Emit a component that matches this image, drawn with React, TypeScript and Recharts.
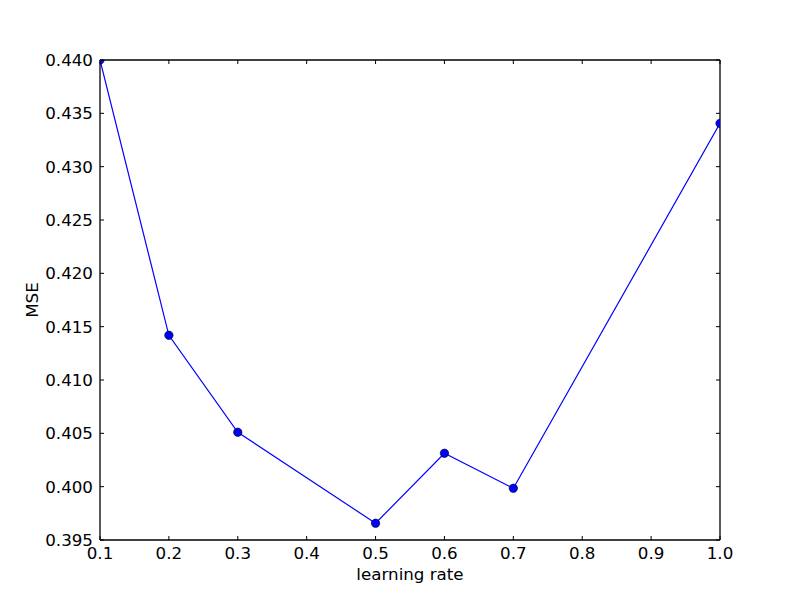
import { LineChart, Line, XAxis, YAxis } from 'recharts';

const learningRates = [0.1, 0.2, 0.3, 0.5, 0.6, 0.7, 1.0];
const mseValues = [0.44, 0.41419, 0.4051, 0.39657, 0.40313, 0.39985, 0.43406];
const xTicks = [0.1, 0.2, 0.3, 0.4, 0.5, 0.6, 0.7, 0.8, 0.9, 1.0];
const yTicks = [0.395, 0.4, 0.405, 0.41, 0.415, 0.42, 0.425, 0.43, 0.435, 0.44];

const data = learningRates.map((lr, i) => ({ lr, mse: mseValues[i] }));

const FONT = '"DejaVu Sans", sans-serif';
const FS = 16.7;
const TICK_LEN = 4;

function BottomTick({ x, y, payload }: any) {
  return (
    <g>
      <line x1={x} y1={y} x2={x} y2={y - TICK_LEN} stroke="#000" strokeWidth={1} />
      <text x={x} y={y + 19} textAnchor="middle" fontSize={FS} fontFamily={FONT} fill="#000">
        {Number(payload.value).toFixed(1)}
      </text>
    </g>
  );
}

function TopTick({ x, y }: any) {
  return <line x1={x} y1={y} x2={x} y2={y + TICK_LEN} stroke="#000" strokeWidth={1} />;
}

function LeftTick({ x, y, payload }: any) {
  return (
    <g>
      <line x1={x} y1={y} x2={x + TICK_LEN} y2={y} stroke="#000" strokeWidth={1} />
      <text x={x - 7} y={y + 6} textAnchor="end" fontSize={FS} fontFamily={FONT} fill="#000">
        {Number(payload.value).toFixed(3)}
      </text>
    </g>
  );
}

function RightTick({ x, y }: any) {
  return <line x1={x} y1={y} x2={x - TICK_LEN} y2={y} stroke="#000" strokeWidth={1} />;
}

export default function App() {
  return (
    <div style={{ position: 'absolute', left: 0, top: 0, width: 800, height: 600, background: '#fff' }}>
      <LineChart width={800} height={600} data={data} margin={{ top: 0, right: 0, bottom: 0, left: 0 }}>
        <XAxis
          dataKey="lr"
          type="number"
          domain={[0.1, 1.0]}
          ticks={xTicks}
          allowDataOverflow
          height={60}
          tickSize={0}
          tickMargin={0}
          tickLine={false}
          axisLine={{ stroke: '#000', strokeWidth: 1.3 }}
          tick={<BottomTick />}
          label={(props: any) => {
            const vb = props.viewBox;
            return (
              <text x={vb.x + vb.width / 2} y={vb.y + 40} textAnchor="middle" fontSize={FS} fontFamily={FONT} fill="#000">
                learning rate
              </text>
            );
          }}
        />
        <XAxis
          xAxisId="top"
          orientation="top"
          dataKey="lr"
          type="number"
          domain={[0.1, 1.0]}
          ticks={xTicks}
          allowDataOverflow
          height={60}
          tickSize={0}
          tickMargin={0}
          tickLine={false}
          axisLine={{ stroke: '#000', strokeWidth: 1.3 }}
          tick={<TopTick />}
        />
        <YAxis
          type="number"
          domain={[0.395, 0.44]}
          ticks={yTicks}
          allowDataOverflow
          width={100}
          tickSize={0}
          tickMargin={0}
          tickLine={false}
          axisLine={{ stroke: '#000', strokeWidth: 1.3 }}
          tick={<LeftTick />}
          label={(props: any) => {
            const vb = props.viewBox;
            const cx = vb.x + 38;
            const cy = vb.y + vb.height / 2;
            return (
              <text x={cx} y={cy} textAnchor="middle" fontSize={FS} fontFamily={FONT} fill="#000" transform={`rotate(-90 ${cx} ${cy})`}>
                MSE
              </text>
            );
          }}
        />
        <YAxis
          yAxisId="right"
          orientation="right"
          type="number"
          domain={[0.395, 0.44]}
          ticks={yTicks}
          allowDataOverflow
          width={80}
          tickSize={0}
          tickMargin={0}
          tickLine={false}
          axisLine={{ stroke: '#000', strokeWidth: 1.3 }}
          tick={<RightTick />}
        />
        <Line
          dataKey="mse"
          type="linear"
          stroke="#0000ff"
          strokeWidth={1.2}
          dot={{ r: 4.2, fill: '#0000ff', stroke: '#000', strokeWidth: 0.6 }}
          activeDot={false}
          isAnimationActive={false}
        />
      </LineChart>
    </div>
  );
}
